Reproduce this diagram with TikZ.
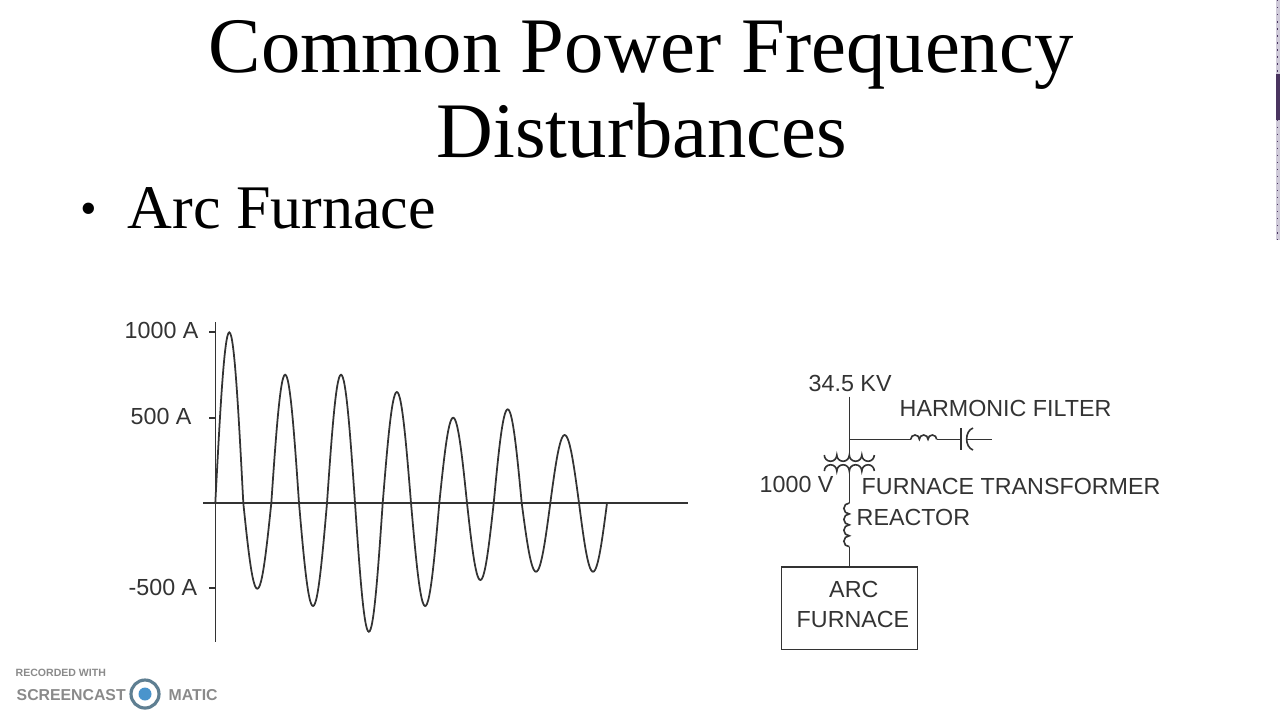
\documentclass[tikz,border=0pt]{standalone}
\usepackage{fontspec}
\setmainfont{Liberation Serif}
\newfontfamily\labelfont{Liberation Sans}
\definecolor{inkgray}{HTML}{333333}
\definecolor{castblue}{HTML}{4A94CC}
\definecolor{castring}{HTML}{5F7F92}
\definecolor{castgray}{HTML}{8A8A8A}
\definecolor{stripgray}{HTML}{CFCAD9}
\definecolor{stripdark}{HTML}{4A3560}
\tikzset{
  titletext/.style={inner sep=0pt,anchor=base,text=black,font=\fontsize{22.36}{26}\selectfont},
  bullettext/.style={inner sep=0pt,anchor=base west,text=black,font=\fontsize{17.64}{20}\selectfont},
  lbl/.style={inner sep=0pt,anchor=base west,text=inkgray,font=\labelfont\fontsize{6.62}{8}\selectfont},
  wire/.style={draw=inkgray,line width=0.46pt},
  wave/.style={draw=inkgray,line width=0.5pt,line cap=round},
  castsmall/.style={inner sep=0pt,anchor=base west,text=castgray,font=\labelfont\bfseries\fontsize{3}{4}\selectfont},
  castbig/.style={inner sep=0pt,anchor=base west,text=castgray,font=\labelfont\bfseries\fontsize{4.5}{5}\selectfont}
}
\begin{document}
\begin{tikzpicture}[x=0.01cm,y=0.01cm]
    \useasboundingbox (0,0) rectangle (1280,-720);
    % title and bullet
    \node [titletext] (title1) at (641,-72) {Common Power Frequency};
    \node [titletext] (title2) at (642,-157) {Disturbances};
    \node [bullettext,font=\fontsize{13.5}{16}\selectfont] (dot) at (79.5,-224) {•};
    \node [bullettext] (arc) at (127,-228) {Arc Furnace};
    % axes of the current plot
    \coordinate (ytop) at (215.5,-322);
    \coordinate (ybot) at (215.5,-642);
    \coordinate (xleft) at (203,-503);
    \coordinate (xright) at (688,-503);
    \draw [wire] (ytop) -- (ybot);
    \draw [wire] (xleft) -- (xright);
    \node [lbl] (amp1000) at (124,-338) {1000 A};
    \node [lbl] (amp500) at (130,-424) {500 A};
    \node [lbl] (ampneg) at (128,-595) {-500 A};
    \draw [wire] (209,-332) -- (ytop |- 0,-332);
    \draw [wire] (209,-418) -- (ytop |- 0,-418);
    \draw [wire] (209,-588) -- (ytop |- 0,-588);
    % half waves: start x / end x / peak y
    \foreach \xa/\xb/\ypk in {215.3/243.3/332.3,243.3/271.3/588.7,271.3/299/374.7,299/327/606,
        327/355/374.7,355/382.7/631.7,382.7/411/392,411/439.3/606,439.3/467/417.7,
        467/493.7/580,493.7/521.7/409.3,521.7/550.3/571.7,550.3/579/435,579/607/571.7}
      \draw [wave] plot [domain=0:180,samples=31,smooth] ({\xa+(\xb-\xa)*\x/180},{-503+(503-\ypk)*sin(\x)});
    % one line circuit
    \coordinate (bus) at (849.3,-396.7);
    \coordinate (tap) at (849.3,-439.3);
    \coordinate (pri) at (849.3,-455);
    \coordinate (sec) at (849.3,-471);
    \coordinate (reacttop) at (849.3,-503);
    \coordinate (reactbot) at (849.3,-546.7);
    \coordinate (filtera) at (910.7,-439.3);
    \coordinate (filterb) at (936.7,-439.3);
    \coordinate (plate) at (960.7,-439.3);
    \coordinate (curve) at (966.5,-439.3);
    \coordinate (filterend) at (991.7,-439.3);
    \node [draw=inkgray,line width=0.46pt,inner sep=0pt,minimum width=135.6*0.2845pt,minimum height=82*0.2845pt] (furnace) at (849.5,-608.3) {};
    \draw [wire] (bus) -- (pri);
    \draw [wire] (tap) -- (filtera);
    \draw [wire] (filtera) arc (180:0:4.33) arc (180:0:4.33) arc (180:0:4.33);
    \draw [wire] (filterb) -- (plate);
    \draw [wire] (960.7,-428) -- (plate) -- (960.7,-450);
    \draw [wire] (973,-428) .. controls (964.5,-431) and (964.5,-447) .. (973,-450);
    \draw [wire] (curve) -- (filterend);
    \draw [wire] (824.3,-455) foreach \i in {1,2,3,4} {arc (180:360:6.25)};
    \draw [wire] (824.3,-471) foreach \i in {1,2,3,4} {arc (180:0:6.25)};
    \draw [wire] (sec) -- (reacttop);
    \draw [wire] (reacttop) foreach \i in {1,2,3,4} {arc (90:270:5.46)};
    \draw [wire] (reactbot) -- (furnace.north -| reactbot);
    \node [lbl] (busv) at (808,-391.7) {34.5 KV};
    \node [lbl] (filter) at (899,-416.7) {HARMONIC FILTER};
    \node [lbl] (secv) at (759,-492) {1000 V};
    \node [lbl] (transformer) at (861,-494) {FURNACE TRANSFORMER};
    \node [lbl] (reactor) at (856,-525) {REACTOR};
    \node [lbl] (arctext) at (828.5,-597) {ARC};
    \node [lbl] (furnacetext) at (796,-627.5) {FURNACE};
    % recorder mark
    \node [castsmall] (rec) at (15,-676) {RECORDED WITH};
    \node [castbig] (cast) at (16,-700) {SCREENCAST};
    \node [castbig] (matic) at (168,-700) {MATIC};
    \node [circle,draw=castring,line width=0.9pt,fill=white,inner sep=0pt,minimum size=28*0.2845pt] (ring) at (145,-694) {};
    \node [circle,fill=castblue,inner sep=0pt,minimum size=13*0.2845pt] (eye) at (ring) {};
    % strip on the right edge
    \fill [stripgray] (1275.5,0) rectangle (1280,-240);
    \fill [stripdark] (1275.5,-74) rectangle (1280,-120);
    \draw [stripdark,line width=0.3pt,dash pattern=on 0.4pt off 1.6pt] (1277.75,0) -- (1277.75,-240);
\end{tikzpicture}
\end{document}
